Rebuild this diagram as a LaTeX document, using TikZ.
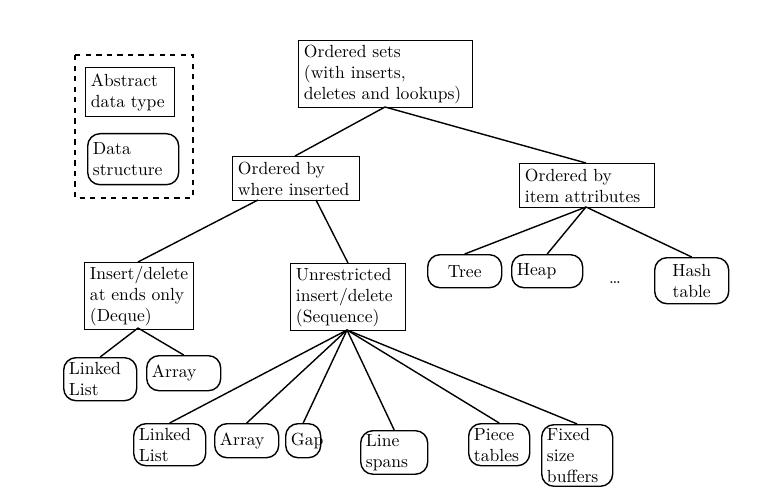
\documentclass[tikz,border=0pt]{standalone}
\begin{document}
\begin{tikzpicture}[x=0.02cm,y=-0.02cm,
 adt/.style={draw,thick,align=left,inner sep=2pt,font=\normalsize,anchor=north west},
 ds/.style={draw,thick,rounded corners=7pt,align=left,inner sep=2pt,anchor=north west},
 e/.style={thick}]
\useasboundingbox (0,0) rectangle (757,493);
\draw[thick,dashed] (75,55) rectangle (193,198);
\newcommand{\bx}[7]{\node[#1,minimum width=#4*0.02cm,minimum height=#5*0.02cm,text width=#4*0.02cm-6pt] (#6) at (#2,#3) {#7};}
\bx{adt}{85}{67}{89}{49}{leg1}{Abstract\\data type}
\bx{ds}{87}{133}{91}{51}{leg2}{Data\\structure}
\bx{adt}{298}{40}{174}{67}{root}{Ordered sets\\(with inserts,\\deletes and lookups)}
\bx{adt}{232}{156}{127}{44}{where}{Ordered by\\where inserted}
\bx{adt}{519}{163}{135}{44}{attr}{Ordered by\\item attributes}
\bx{adt}{84}{262}{109}{66}{deque}{Insert/delete\\at ends only\\(Deque)}
\bx{adt}{290}{263}{115}{67}{seq}{Unrestricted\\insert/delete\\(Sequence)}
\bx{ds}{63}{357}{73}{43}{ll1}{Linked\\List}
\bx{ds}{146}{355}{74}{35}{ar1}{Array}
\bx{ds}{427}{254}{74}{33}{tree}{\hfil Tree}
\bx{ds}{511}{254}{71}{33}{heap}{Heap}
\node at (615,283) {\dots};
\bx{ds}{654}{257}{74}{46}{hash}{\hfil Hash\\\hfil table}
\bx{ds}{133}{423}{72}{42}{ll2}{Linked\\List}
\bx{ds}{214}{423}{64}{34}{ar2}{Array}
\bx{ds}{285}{423}{35}{34}{gap}{Gap}
\bx{ds}{360}{430}{67}{37}{ls}{Line\\spans}
\bx{ds}{468}{423}{61}{42}{pt}{Piece\\tables}
\bx{ds}{541}{424}{71}{43}{fsb}{Fixed size\\buffers}
\draw[e] (385,107) -- (295,156);
\draw[e] (385,107) -- (586,163);
\draw[e] (258,200) -- (138,262);
\draw[e] (316,200) -- (348,263);
\foreach \n in {tree,heap,hash} \draw[e] (586,207) -- (\n.north);
\foreach \n in {ll1,ar1} \draw[e] (138,328) -- (\n.north);
\foreach \n in {ll2,ar2,gap,ls,pt,fsb} \draw[e] (347,330) -- (\n.north);
\end{tikzpicture}
\end{document}
